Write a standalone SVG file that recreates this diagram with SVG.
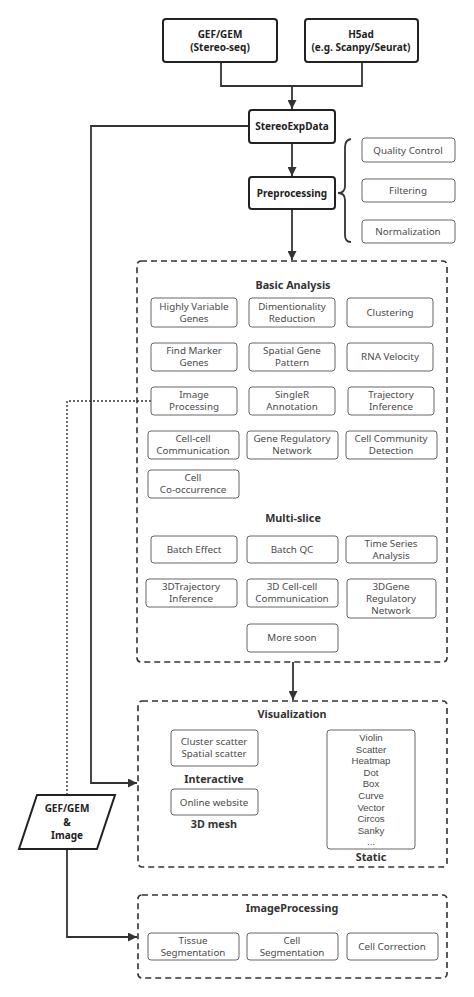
<svg xmlns="http://www.w3.org/2000/svg" width="474" height="997" viewBox="0 0 474 997">
<style>
.bg{fill:#fff}
.main{fill:#fff;stroke:#222;stroke-width:2}
.sub{fill:#fff;stroke:#666;stroke-width:1}
.dash{fill:none;stroke:#333;stroke-width:1.6;stroke-dasharray:6,4}
.ln{fill:none;stroke:#333;stroke-width:1.8}
.dot{fill:none;stroke:#333;stroke-width:1.4;stroke-dasharray:2,2}
text{font-family:"Noto Sans","Open Sans",sans-serif;text-anchor:middle}
.b{font-weight:bold;font-size:10px;fill:#222}
.t{font-size:9.8px;fill:#4a4a4a}
.s{font-family:"Liberation Sans",Arial,sans-serif;font-size:9.6px;fill:#4a4a4a}
.h{font-weight:bold;font-size:10.8px;fill:#333}
</style>
<defs>
<marker id="ar" viewBox="0 0 10 10" refX="10" refY="5" markerWidth="5.5" markerHeight="5" orient="auto" markerUnits="strokeWidth">
<path d="M0,0 L10,5 L0,10 z" fill="#333"/>
</marker>
</defs>
<rect class="bg" width="474" height="997"/>
<g id="connectors">
<path class="ln" d="M221,62 V86 H362 V62"/>
<path class="ln" d="M292,86 V109" marker-end="url(#ar)"/>
<path class="ln" d="M292,143 V176" marker-end="url(#ar)"/>
<path class="ln" d="M292,209 V260" marker-end="url(#ar)"/>
<path class="ln" d="M293,662 V700" marker-end="url(#ar)"/>
<path class="ln" d="M249,126 H91 V783 H137" marker-end="url(#ar)"/>
<path class="dot" d="M151,401 H67 V795"/>
<path class="ln" d="M67,849 V937 H137" marker-end="url(#ar)"/>
<path class="ln" stroke-width="1.3" d="M351,139 Q345,140 345,147 V186 Q345,193 338,193 Q345,193 345,200 V235 Q345,242 351,242"/>
</g>
<g id="gef-gem">
<rect class="main" x="163" y="19" width="114" height="43" rx="3"/>
<text class="b" x="220" y="38">GEF/GEM</text>
<text class="b" x="220" y="51">(Stereo-seq)</text>
</g>
<g id="h5ad">
<rect class="main" x="305" y="19" width="113" height="43" rx="3"/>
<text class="b" x="361" y="38">H5ad</text>
<text class="b" x="361" y="51">(e.g. Scanpy/Seurat)</text>
</g>
<g id="stereoexpdata">
<rect class="main" x="249" y="110" width="86" height="33" rx="3"/>
<text class="b" x="292" y="130">StereoExpData</text>
</g>
<g id="preprocessing">
<rect class="main" x="249" y="177" width="86" height="32" rx="3"/>
<text class="b" x="292" y="197">Preprocessing</text>
</g>
<g id="quality-control">
<rect class="sub" x="362" y="138" width="93" height="24" rx="3"/>
<text class="t" x="408" y="154">Quality Control</text>
</g>
<g id="filtering">
<rect class="sub" x="362" y="179" width="93" height="23" rx="3"/>
<text class="t" x="408" y="194">Filtering</text>
</g>
<g id="normalization">
<rect class="sub" x="362" y="220" width="93" height="23" rx="3"/>
<text class="t" x="408" y="235">Normalization</text>
</g>
<g id="analysis-box">
<rect class="dash" x="137" y="261" width="310" height="401" rx="4"/>
<text class="h" x="293" y="289">Basic Analysis</text>
<text class="h" x="293" y="522">Multi-slice</text>
</g>
<g id="hvg"><rect class="sub" x="151" y="298" width="86" height="29" rx="3"/><text class="t" x="194" y="310">Highly Variable</text><text class="t" x="194" y="322">Genes</text></g>
<g id="dimred"><rect class="sub" x="249" y="298" width="86" height="29" rx="3"/><text class="t" x="292" y="310">Dimentionality</text><text class="t" x="292" y="322">Reduction</text></g>
<g id="clustering"><rect class="sub" x="347" y="298" width="86" height="29" rx="3"/><text class="t" x="390" y="316">Clustering</text></g>
<g id="marker"><rect class="sub" x="151" y="343" width="86" height="28" rx="3"/><text class="t" x="194" y="354">Find Marker</text><text class="t" x="194" y="366">Genes</text></g>
<g id="spatial"><rect class="sub" x="249" y="343" width="86" height="28" rx="3"/><text class="t" x="292" y="354">Spatial Gene</text><text class="t" x="292" y="366">Pattern</text></g>
<g id="rna"><rect class="sub" x="347" y="343" width="86" height="28" rx="3"/><text class="t" x="390" y="360">RNA Velocity</text></g>
<g id="imgproc"><rect class="sub" x="151" y="387" width="86" height="28" rx="3"/><text class="t" x="194" y="398">Image</text><text class="t" x="194" y="410">Processing</text></g>
<g id="singler"><rect class="sub" x="249" y="387" width="86" height="28" rx="3"/><text class="t" x="292" y="398">SingleR</text><text class="t" x="292" y="410">Annotation</text></g>
<g id="traj"><rect class="sub" x="348" y="387" width="86" height="28" rx="3"/><text class="t" x="391" y="398">Trajectory</text><text class="t" x="391" y="410">Inference</text></g>
<g id="ccc"><rect class="sub" x="148" y="431" width="91" height="28" rx="3"/><text class="t" x="193" y="442">Cell-cell</text><text class="t" x="193" y="454">Communication</text></g>
<g id="grn"><rect class="sub" x="247" y="431" width="91" height="28" rx="3"/><text class="t" x="292" y="442">Gene Regulatory</text><text class="t" x="292" y="454">Network</text></g>
<g id="ccd"><rect class="sub" x="346" y="431" width="91" height="28" rx="3"/><text class="t" x="391" y="442">Cell Community</text><text class="t" x="391" y="454">Detection</text></g>
<g id="cooc"><rect class="sub" x="148" y="470" width="91" height="28" rx="3"/><text class="t" x="193" y="481">Cell</text><text class="t" x="193" y="493">Co-occurrence</text></g>
<g id="batch-effect"><rect class="sub" x="151" y="536" width="86" height="27" rx="3"/><text class="t" x="194" y="553">Batch Effect</text></g>
<g id="batch-qc"><rect class="sub" x="247" y="536" width="91" height="27" rx="3"/><text class="t" x="292" y="553">Batch QC</text></g>
<g id="time-series"><rect class="sub" x="346" y="536" width="91" height="27" rx="3"/><text class="t" x="391" y="547">Time Series</text><text class="t" x="391" y="559">Analysis</text></g>
<g id="traj3d"><rect class="sub" x="146" y="579" width="91" height="28" rx="3"/><text class="t" x="191" y="590">3DTrajectory</text><text class="t" x="191" y="602">Inference</text></g>
<g id="ccc3d"><rect class="sub" x="247" y="579" width="91" height="28" rx="3"/><text class="t" x="292" y="590">3D Cell-cell</text><text class="t" x="292" y="602">Communication</text></g>
<g id="grn3d"><rect class="sub" x="347" y="579" width="89" height="39" rx="3"/><text class="t" x="391" y="590">3DGene</text><text class="t" x="391" y="602">Regulatory</text><text class="t" x="391" y="614">Network</text></g>
<g id="more-soon"><rect class="sub" x="247" y="624" width="91" height="28" rx="3"/><text class="t" x="292" y="641">More soon</text></g>
<g id="visualization">
<rect class="dash" x="138" y="701" width="309" height="166" rx="4"/>
<text class="h" x="292" y="718">Visualization</text>
<text class="h" x="214" y="783">Interactive</text>
<text class="h" x="214" y="828">3D mesh</text>
<text class="h" x="371" y="861">Static</text>
</g>
<g id="scatter"><rect class="sub" x="171" y="730" width="87" height="36" rx="3"/><text class="t" x="214" y="745">Cluster scatter</text><text class="t" x="214" y="757">Spatial scatter</text></g>
<g id="online"><rect class="sub" x="171" y="789" width="87" height="26" rx="3"/><text class="t" x="214" y="806">Online website</text></g>
<g id="static">
<rect class="sub" x="327" y="730" width="88" height="119" rx="3"/>
<text class="s" x="371" y="741">Violin</text>
<text class="s" x="371" y="753">Scatter</text>
<text class="s" x="371" y="764">Heatmap</text>
<text class="s" x="371" y="776">Dot</text>
<text class="s" x="371" y="787">Box</text>
<text class="s" x="371" y="799">Curve</text>
<text class="s" x="371" y="811">Vector</text>
<text class="s" x="371" y="822">Circos</text>
<text class="s" x="371" y="834">Sanky</text>
<text class="s" x="371" y="845">...</text>
</g>
<g id="gef-image">
<path class="main" d="M37,795 H115 L97,849 H19 Z"/>
<text class="b" x="67" y="812">GEF/GEM</text>
<text class="b" x="67" y="826">&amp;</text>
<text class="b" x="67" y="839">Image</text>
</g>
<g id="imageprocessing">
<rect class="dash" x="138" y="895" width="309" height="83" rx="4"/>
<text class="h" x="292" y="912">ImageProcessing</text>
</g>
<g id="tissue"><rect class="sub" x="148" y="933" width="91" height="27" rx="3"/><text class="t" x="193" y="944">Tissue</text><text class="t" x="193" y="956">Segmentation</text></g>
<g id="cellseg"><rect class="sub" x="247" y="933" width="91" height="27" rx="3"/><text class="t" x="292" y="944">Cell</text><text class="t" x="292" y="956">Segmentation</text></g>
<g id="cellcorr"><rect class="sub" x="347" y="933" width="91" height="27" rx="3"/><text class="t" x="392" y="950">Cell Correction</text></g>
</svg>
